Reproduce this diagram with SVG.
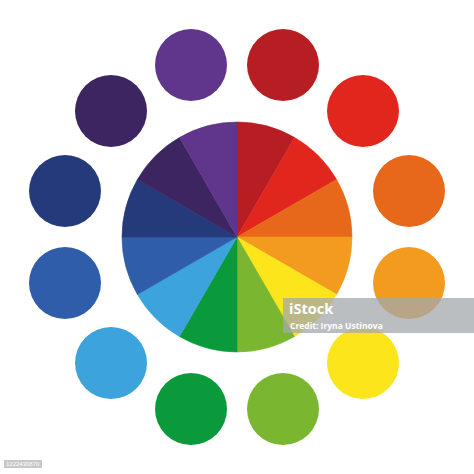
<svg xmlns="http://www.w3.org/2000/svg" width="474" height="474" viewBox="0 0 474 474">
<style>
.wm1{font-family:"Open Sans","Liberation Sans",sans-serif;font-weight:700;fill:#ffffff}
.id{font-family:"Liberation Sans",sans-serif;font-size:6px;fill:#ffffff}
#wheel path{stroke-width:0.6;stroke-linejoin:round}
</style>
<rect width="474" height="474" fill="#ffffff"/>
<g id="wheel">
<path d="M237,237 L237,122 A115,115 0 0 1 294.5,137.4 Z" fill="#B71E23" stroke="#B71E23"/>
<path d="M237,237 L294.5,137.4 A115,115 0 0 1 336.6,179.5 Z" fill="#E1261E" stroke="#E1261E"/>
<path d="M237,237 L336.6,179.5 A115,115 0 0 1 352,237 Z" fill="#E8681B" stroke="#E8681B"/>
<path d="M237,237 L352,237 A115,115 0 0 1 336.6,294.5 Z" fill="#F29B1E" stroke="#F29B1E"/>
<path d="M237,237 L336.6,294.5 A115,115 0 0 1 294.5,336.6 Z" fill="#FDE51C" stroke="#FDE51C"/>
<path d="M237,237 L294.5,336.6 A115,115 0 0 1 237,352 Z" fill="#7AB62F" stroke="#7AB62F"/>
<path d="M237,237 L237,352 A115,115 0 0 1 179.5,336.6 Z" fill="#0A9A3B" stroke="#0A9A3B"/>
<path d="M237,237 L179.5,336.6 A115,115 0 0 1 137.4,294.5 Z" fill="#3CA3DD" stroke="#3CA3DD"/>
<path d="M237,237 L137.4,294.5 A115,115 0 0 1 122,237 Z" fill="#2F5DAA" stroke="#2F5DAA"/>
<path d="M237,237 L122,237 A115,115 0 0 1 137.4,179.5 Z" fill="#243A7B" stroke="#243A7B"/>
<path d="M237,237 L137.4,179.5 A115,115 0 0 1 179.5,137.4 Z" fill="#3C2561" stroke="#3C2561"/>
<path d="M237,237 L179.5,137.4 A115,115 0 0 1 237,122 Z" fill="#5F368C" stroke="#5F368C"/>
</g>
<g id="c1"><circle cx="283" cy="65" r="36" fill="#B71E23"/></g>
<g id="c2"><circle cx="363" cy="111" r="36" fill="#E1261E"/></g>
<g id="c3"><circle cx="409" cy="191" r="36" fill="#E8681B"/></g>
<g id="c4"><circle cx="409" cy="283" r="36" fill="#F29B1E"/></g>
<g id="c5"><circle cx="363" cy="363" r="36" fill="#FDE51C"/></g>
<g id="c6"><circle cx="283" cy="409" r="36" fill="#7AB62F"/></g>
<g id="c7"><circle cx="191" cy="409" r="36" fill="#0A9A3B"/></g>
<g id="c8"><circle cx="111" cy="363" r="36" fill="#3CA3DD"/></g>
<g id="c9"><circle cx="65" cy="283" r="36" fill="#2F5DAA"/></g>
<g id="c10"><circle cx="65" cy="191" r="36" fill="#243A7B"/></g>
<g id="c11"><circle cx="111" cy="111" r="36" fill="#3C2561"/></g>
<g id="c12"><circle cx="191" cy="65" r="36" fill="#5F368C"/></g>
<g id="watermark">
<rect x="283" y="298" width="191" height="35" fill="#a4a8ac" fill-opacity="0.75"/>
<text class="wm1" x="289" y="314" font-size="14.5">iStock</text>
<text class="wm1" x="290" y="328.5" font-size="8.5">Credit: Iryna Ustinova</text>
</g>
<g id="stockid">
<rect x="4" y="460" width="38" height="8" fill="#c8c8c8"/>
<text class="id" x="6" y="466">1222430870</text>
</g>
</svg>
